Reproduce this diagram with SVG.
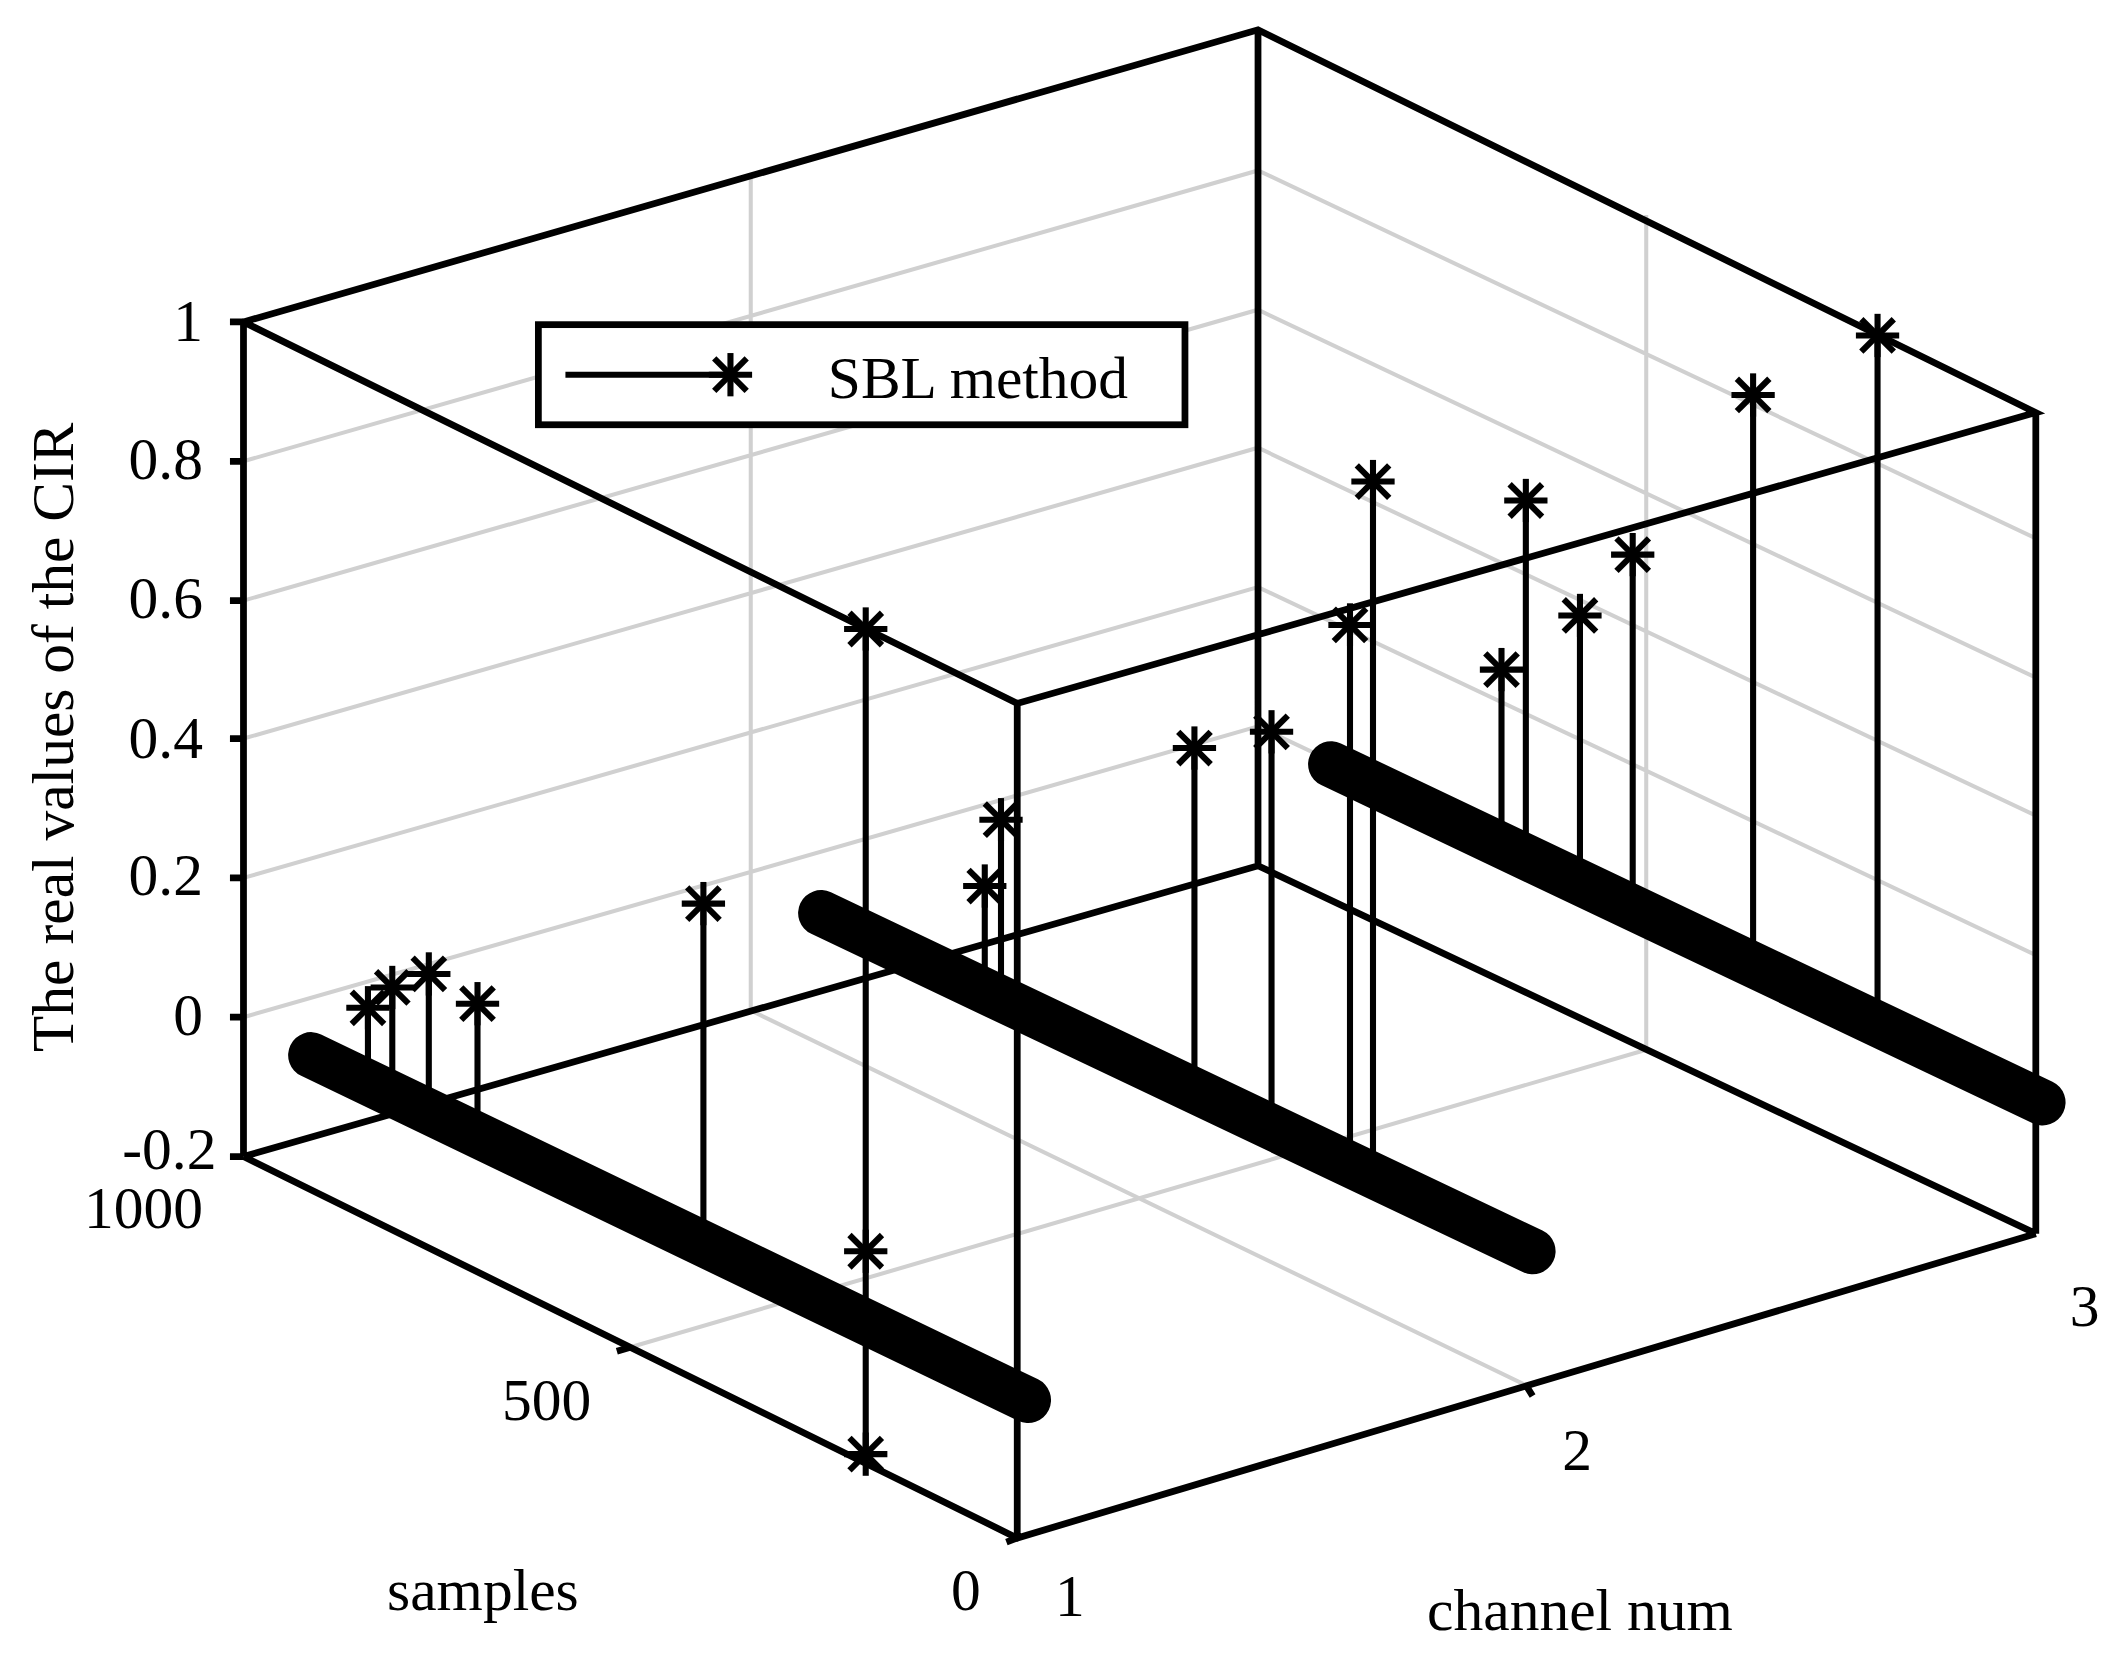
<svg xmlns="http://www.w3.org/2000/svg" width="2121" height="1656" viewBox="0 0 2121 1656">
<style>
.ax{stroke:#000;stroke-width:5;fill:none}
.gr{stroke:#d0d0d0;stroke-width:3;fill:none}
.st{stroke:#000;stroke-width:4.5}
.th{stroke:#000;stroke-width:34;stroke-linecap:round}
text{font-family:"Liberation Serif","Times New Roman",serif;font-size:44px;fill:#000}
</style>
<defs>
<g id="star" class="st"><line x1="-16" y1="0" x2="16" y2="0"/><line x1="0" y1="-16" x2="0" y2="16"/><line x1="-12" y1="-12" x2="12" y2="12"/><line x1="-12" y1="12" x2="12" y2="-12"/></g>
</defs>
<rect width="2121" height="1656" fill="#fff"/>
<g transform="scale(1.3527)">
<g id="grid">
<path class="gr" d="M180,752 L930,537 L1505,809 M180,649 L930,434 L1505,706 M180,546 L930,331 L1505,603 M180,444 L930,229 L1505,501 M180,341 L930,126 L1505,398 M555,747 L555,130 M1217,776 L1217,159 M466,996 L1217,776 M1128,1024 L555,747"/>
</g>
<g id="box">
<path class="ax" d="M180,238 L930,22 L1505,305 L752,520 Z M180,238 L180,855 M752,520 L752,1137 M1505,305 L1505,912 M930,22 L930,640 M180,855 L752,1137 L1505,912 M180,855 L930,640 L1505,912"/>
<path class="ax" d="M180,238 h-10 M180,341 h-10 M180,444 h-10 M180,546 h-10 M180,649 h-10 M180,752 h-10 M180,855 h-10 M466,996 l-10,3 M1128,1024 l5,8 M752,1137 l-8,3"/>
</g>
<g id="data">
<line class="th" x1="230" y1="780" x2="760" y2="1035"/>
<line class="th" x1="607" y1="675" x2="1133" y2="925"/>
<line class="th" x1="984" y1="565" x2="1510" y2="815"/>
<g class="st">
<line x1="272" y1="745" x2="272" y2="801"/><line x1="290" y1="730" x2="290" y2="810"/><line x1="317" y1="720" x2="317" y2="822"/><line x1="353" y1="742" x2="353" y2="840"/><line x1="520" y1="668" x2="520" y2="919"/><line x1="640" y1="465" x2="640" y2="1075"/>
<line x1="728" y1="655" x2="728" y2="735"/><line x1="740" y1="606" x2="740" y2="740"/><line x1="883" y1="553" x2="883" y2="807"/><line x1="940" y1="541" x2="940" y2="834"/><line x1="998" y1="462" x2="998" y2="861"/><line x1="1015" y1="356" x2="1015" y2="869"/>
<line x1="1110" y1="495" x2="1110" y2="626"/><line x1="1128" y1="370" x2="1128" y2="634"/><line x1="1168" y1="455" x2="1168" y2="653"/><line x1="1207" y1="410" x2="1207" y2="671"/><line x1="1296" y1="292" x2="1296" y2="713"/><line x1="1388" y1="248" x2="1388" y2="756"/>
</g>
<use href="#star" x="272" y="745"/><use href="#star" x="290" y="730"/><use href="#star" x="317" y="720"/><use href="#star" x="353" y="742"/><use href="#star" x="520" y="668"/><use href="#star" x="640" y="465"/><use href="#star" x="640" y="925"/><use href="#star" x="640" y="1075"/>
<use href="#star" x="728" y="655"/><use href="#star" x="740" y="606"/><use href="#star" x="883" y="553"/><use href="#star" x="940" y="541"/><use href="#star" x="998" y="462"/><use href="#star" x="1015" y="356"/>
<use href="#star" x="1110" y="495"/><use href="#star" x="1128" y="370"/><use href="#star" x="1168" y="455"/><use href="#star" x="1207" y="410"/><use href="#star" x="1296" y="292"/><use href="#star" x="1388" y="248"/>
</g>
<g id="legend">
<rect x="398" y="240" width="478" height="74" fill="#fff" stroke="#000" stroke-width="5"/>
<line class="st" x1="418" y1="277" x2="540" y2="277"/>
<use href="#star" x="540" y="277"/>
<text x="612" y="294">SBL method</text>
</g>
<g id="labels">
<text x="150" y="252" text-anchor="end">1</text>
<text x="150" y="354" text-anchor="end">0.8</text>
<text x="150" y="457" text-anchor="end">0.6</text>
<text x="150" y="560" text-anchor="end">0.4</text>
<text x="150" y="662" text-anchor="end">0.2</text>
<text x="150" y="765" text-anchor="end">0</text>
<text x="160" y="864" text-anchor="end">-0.2</text>
<text x="150" y="908" text-anchor="end">1000</text>
<text x="437" y="1050" text-anchor="end">500</text>
<text x="725" y="1190" text-anchor="end">0</text>
<text x="780" y="1195">1</text>
<text x="1155" y="1087">2</text>
<text x="1530" y="980">3</text>
<text x="357" y="1190" text-anchor="middle">samples</text>
<text x="1168" y="1205" text-anchor="middle">channel num</text>
<text transform="translate(54,545) rotate(-90)" text-anchor="middle">The real values of the CIR</text>
</g>
</g>
</svg>
